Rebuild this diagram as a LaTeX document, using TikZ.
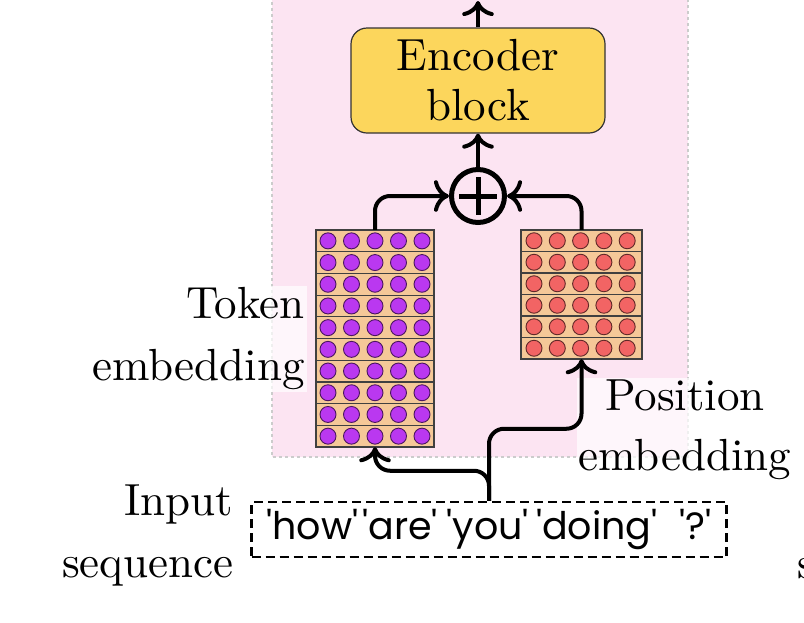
\documentclass[tikz,border=0pt]{standalone}
\usetikzlibrary{arrows.meta}
\font\labelfont="[lmroman10-regular]" at 45pt
\font\seqfont="Poppins" at 38pt
\newcommand\lblfont[1]{\labelfont\baselineskip=#1\relax}
\definecolor{bgpink}{RGB}{252,228,242}
\definecolor{encyellow}{RGB}{252,214,92}
\definecolor{rowtan}{RGB}{245,200,152}
\definecolor{tokpurple}{RGB}{186,56,240}
\definecolor{posred}{RGB}{242,100,100}
\begin{document}
\begin{tikzpicture}[x=1pt, y=-1pt,
    conn/.style={line width=4, -{To[scale=1.45]}, rounded corners=15},
    lbl/.style={font={\lblfont{#1}}, fill=white, fill opacity=0.7, text opacity=1, inner sep=2},
    rowbox/.style={draw=black!75, line width=1.2, fill=rowtan},
    tokdot/.style={draw=tokpurple!40!black, line width=0.9, fill=tokpurple},
    posdot/.style={draw=posred!40!black, line width=0.9, fill=posred}]
  \useasboundingbox (0,0) rectangle (804,622);
  \draw[dashed, draw=black!20, line width=1.5, fill=bgpink] (272,-10) rectangle (688,457);

  \node [lbl=62pt, align=right, anchor=east] at (307,339) (TL) {Token\\embedding};
  \node [lbl=60pt, align=center] at (685,430) (PL) {Position\\embedding};
  \node [font={\lblfont{62pt}}, align=right, anchor=east] at (237,535) (IL) {Input\\sequence};
  \node [font=\labelfont, anchor=base west, inner sep=0] at (797,578) (SL) {s};

  % token and position embeddings
  \foreach \r in {0,...,9} {
    \draw[rowbox] (316,230+\r*21.7) rectangle (434,251.7+\r*21.7);
    \foreach \c in {0,...,4}
      \draw[tokdot] (328+\c*23.5,240.85+\r*21.7) circle[radius=8];
  }
  \foreach \r in {0,...,5} {
    \draw[rowbox] (521,230+\r*21.5) rectangle (642,251.5+\r*21.5);
    \foreach \c in {0,...,4}
      \draw[posdot] (534+\c*23.3,240.75+\r*21.5) circle[radius=8];
  }
  \node [minimum width=118, minimum height=217, inner sep=0] at (375,338.5) (T) {};
  \node [minimum width=121, minimum height=129, inner sep=0] at (581.5,294.5) (P) {};

  \node [circle, draw, line width=5, minimum size=53, inner sep=0] at (478,196) (S) {};
  \draw[line width=5] (S.center) +(-19,0) -- +(19,0) (S.center) +(0,-19) -- +(0,19);
  \node [draw=black!80, line width=1.2, fill=encyellow, rounded corners=16, minimum width=254, minimum height=105,
         align=center, font={\lblfont{50pt}}] at (478,80.5) (E) {Encoder\\block};
  \node [draw, dash pattern=on 9pt off 5pt, line width=2.5, minimum width=475, minimum height=55,
         font=\seqfont] at (489,529.5) (I) {'how'\hspace{4pt}'are'\hspace{9pt}'you'\hspace{7pt}'doing'\hspace{22pt}'?'};
  \coordinate (O) at (478,1);

  \draw[conn] (T.north) |- (S.west);
  \draw[conn] (P.north) |- (S.east);
  \draw[conn] (S.north) -- (E.south);
  \draw[conn] (E.north) -- (O);
  \draw[conn] (I.north) -- ++(0,-30) -| (T.south);
  \draw[conn] (I.north) -- ++(0,-72) -| (P.south);
\end{tikzpicture}
\end{document}
